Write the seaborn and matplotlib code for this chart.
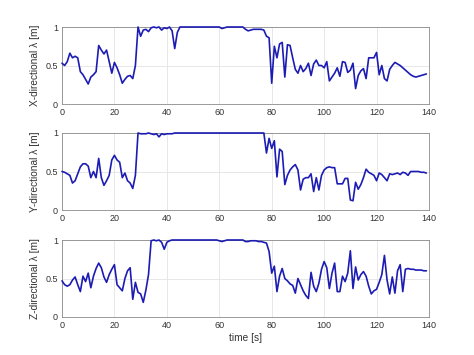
import matplotlib
matplotlib.use("Agg")
import matplotlib.pyplot as plt
import seaborn as sns
import pandas as pd

# time axis [s]
time_s = list(range(140))

x_lambda = [
    0.53, 0.50, 0.55, 0.66, 0.60, 0.62, 0.60, 0.42, 0.38, 0.32,
    0.26, 0.35, 0.38, 0.42, 0.76, 0.70, 0.65, 0.70, 0.55, 0.40,
    0.54, 0.47, 0.38, 0.27, 0.32, 0.36, 0.37, 0.33, 0.50, 1.00,
    0.88, 0.96, 0.97, 0.94, 0.99, 1.00, 0.99, 1.00, 0.96, 0.99,
    0.98, 1.00, 0.95, 0.72, 0.93, 1.00, 1.00, 1.00, 1.00, 1.00,
    1.00, 1.00, 1.00, 1.00, 1.00, 1.00, 1.00, 1.00, 1.00, 1.00,
    1.00, 0.98, 0.99, 1.00, 1.00, 1.00, 1.00, 1.00, 1.00, 1.00,
    0.97, 0.95, 0.96, 0.97, 0.97, 0.97, 0.97, 0.96, 0.88, 0.86,
    0.27, 0.75, 0.60, 0.78, 0.80, 0.35, 0.77, 0.76, 0.60, 0.45,
    0.40, 0.50, 0.42, 0.46, 0.53, 0.37, 0.52, 0.57, 0.50, 0.50,
    0.47, 0.55, 0.30, 0.35, 0.40, 0.47, 0.36, 0.55, 0.54, 0.41,
    0.44, 0.53, 0.20, 0.37, 0.43, 0.46, 0.33, 0.60, 0.60, 0.60,
    0.67, 0.38, 0.50, 0.33, 0.30, 0.45, 0.50, 0.54, 0.52, 0.50,
    0.47, 0.44, 0.41, 0.38, 0.36, 0.35, 0.36, 0.37, 0.38, 0.39,
]

y_lambda = [
    0.50, 0.49, 0.47, 0.45, 0.35, 0.38, 0.47, 0.56, 0.60, 0.60,
    0.57, 0.42, 0.50, 0.42, 0.67, 0.42, 0.32, 0.38, 0.45, 0.65,
    0.71, 0.65, 0.62, 0.42, 0.48, 0.38, 0.35, 0.28, 0.45, 1.00,
    0.99, 0.99, 0.99, 1.00, 0.99, 0.98, 0.99, 0.95, 0.99, 0.98,
    0.99, 0.99, 0.99, 1.00, 1.00, 1.00, 1.00, 1.00, 1.00, 1.00,
    1.00, 1.00, 1.00, 1.00, 1.00, 1.00, 1.00, 1.00, 1.00, 1.00,
    1.00, 1.00, 1.00, 1.00, 1.00, 1.00, 1.00, 1.00, 1.00, 1.00,
    1.00, 1.00, 1.00, 1.00, 1.00, 1.00, 1.00, 1.00, 0.74, 0.93,
    0.80, 0.90, 0.43, 0.79, 0.76, 0.33, 0.45, 0.52, 0.56, 0.59,
    0.52, 0.26, 0.40, 0.42, 0.42, 0.47, 0.24, 0.42, 0.26, 0.45,
    0.52, 0.55, 0.56, 0.55, 0.55, 0.34, 0.34, 0.34, 0.41, 0.41,
    0.13, 0.12, 0.36, 0.27, 0.33, 0.42, 0.53, 0.49, 0.47, 0.45,
    0.38, 0.48, 0.46, 0.42, 0.38, 0.47, 0.46, 0.47, 0.48, 0.46,
    0.49, 0.48, 0.45, 0.50, 0.50, 0.50, 0.50, 0.49, 0.49, 0.48,
]

z_lambda = [
    0.47, 0.42, 0.40, 0.42, 0.48, 0.52, 0.42, 0.33, 0.53, 0.46,
    0.57, 0.38, 0.53, 0.63, 0.70, 0.64, 0.52, 0.45, 0.55, 0.62,
    0.68, 0.42, 0.38, 0.34, 0.50, 0.60, 0.64, 0.23, 0.45, 0.32,
    0.30, 0.19, 0.35, 0.55, 0.99, 1.00, 0.99, 1.00, 0.97, 0.88,
    0.97, 0.99, 1.00, 1.00, 1.00, 1.00, 1.00, 1.00, 1.00, 1.00,
    1.00, 1.00, 1.00, 1.00, 1.00, 1.00, 1.00, 1.00, 1.00, 1.00,
    0.99, 0.98, 0.99, 1.00, 1.00, 1.00, 1.00, 1.00, 1.00, 1.00,
    0.98, 0.98, 0.99, 0.99, 0.99, 0.98, 0.98, 0.97, 0.96, 0.85,
    0.57, 0.66, 0.33, 0.53, 0.63, 0.50, 0.47, 0.43, 0.41, 0.31,
    0.50, 0.42, 0.34, 0.28, 0.24, 0.58, 0.40, 0.33, 0.44, 0.62,
    0.72, 0.64, 0.37, 0.57, 0.70, 0.33, 0.33, 0.53, 0.46, 0.57,
    0.86, 0.37, 0.65, 0.48, 0.55, 0.59, 0.53, 0.40, 0.30, 0.34,
    0.36, 0.45, 0.55, 0.80, 0.48, 0.30, 0.52, 0.31, 0.60, 0.68,
    0.33, 0.62, 0.63, 0.62, 0.62, 0.61, 0.61, 0.61, 0.60, 0.60,
]

y_labels = ["X-directional λ [m]", "Y-directional λ [m]", "Z-directional λ [m]"]
x_ticks = [0, 20, 40, 60, 80, 100, 120, 140]
y_ticks = [0, 0.5, 1]
y_ticklabels = ["0", "0.5", "1"]

sns.set_style("white")
plt.rcParams["font.family"] = ["Liberation Sans", "DejaVu Sans"]

fig = plt.figure(figsize=(4.74, 3.55), dpi=100)
left, width = 62 / 474, (429 - 62) / 474
tops = [27, 133, 240]
h_px = 77
series = [x_lambda, y_lambda, z_lambda]

line_color = "#1c1cb4"
for i, (vals, lab, top) in enumerate(zip(series, y_labels, tops)):
    bottom = 1 - (top + h_px) / 355
    ax = fig.add_axes([left, bottom, width, h_px / 355])
    df = pd.DataFrame({"t": time_s, "v": vals})
    sns.lineplot(data=df, x="t", y="v", ax=ax, color=line_color,
                 linewidth=1.2, estimator=None, sort=False)
    for ln in ax.lines:
        ln.set_clip_on(False)
        ln.set_zorder(5)
    ax.set_xlim(0, 140)
    ax.set_ylim(0, 1)
    ax.set_xticks(x_ticks)
    ax.set_yticks(y_ticks)
    ax.set_yticklabels(y_ticklabels)
    ax.grid(True, color="#e3e3e3", linewidth=0.6)
    ax.set_axisbelow(True)
    for s in ax.spines.values():
        s.set_color("#8a8a8a")
        s.set_linewidth(0.6)
    ax.tick_params(direction="in", length=2.5, width=0.5, colors="#8a8a8a",
                   labelcolor="#333333", labelsize=6.5, pad=3)
    ax.set_ylabel(lab, fontsize=7.3, color="#333333", labelpad=4)
    if i == 2:
        ax.set_xlabel("time [s]", fontsize=7.3, color="#333333", labelpad=2)
    else:
        ax.set_xlabel("")

fig.savefig("out.png", dpi=100)
